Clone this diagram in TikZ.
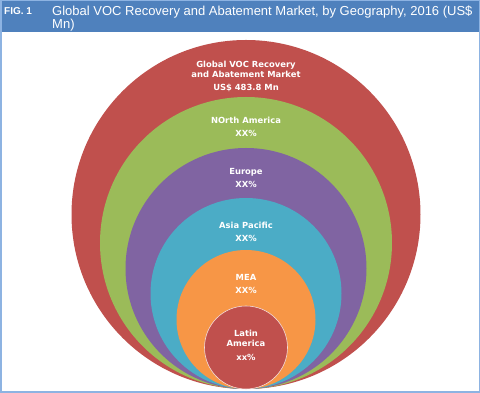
\documentclass[tikz,border=0pt]{standalone}
\usepackage{fontspec}
\setmainfont{Liberation Sans}
\newfontfamily\ringfont{DejaVu Sans}
\usetikzlibrary{positioning}
\definecolor{hdrblue}{RGB}{79,129,189}
\definecolor{frameblue}{RGB}{141,179,226}
\definecolor{ringred}{RGB}{192,80,77}
\definecolor{ringgreen}{RGB}{155,187,89}
\definecolor{ringpurple}{RGB}{128,100,162}
\definecolor{ringcyan}{RGB}{75,172,198}
\definecolor{ringorange}{RGB}{247,150,70}

\begin{document}
\begin{tikzpicture}[x=1pt, y=1pt,
  disc/.style={circle, inner sep=0pt, outer sep=0pt, anchor=south},
  lbl/.style={align=center, text=white, inner sep=0pt,
    font=\ringfont\bfseries\fontsize{8.4}{10}\selectfont}
]
  \useasboundingbox (0,0) rectangle (480,393);
  \fill[white] (0,0) rectangle (480,393);
  \fill[hdrblue] (0,361) rectangle (480,393);
  \draw[frameblue, line width=1.5pt] (0.75,0.75) rectangle (479.25,392.25);
  \node[anchor=west, text=white, inner sep=0pt, font=\bfseries\fontsize{10}{12}\selectfont]
    (fig) at (4,382) {FIG. 1};
  \node[anchor=north west, align=left, text=white, inner sep=0pt,
    font=\fontsize{13}{13}\selectfont] (title) at (52,387.5)
    {Global VOC Recovery and Abatement Market, by Geography, 2016 (US\$\\Mn)};

  % nested rings, all resting on the same base point
  \coordinate (base) at (246,4);
  \node[disc, fill=ringred, minimum size=349pt] (glob) at (base) {};
  \node[disc, fill=ringgreen, minimum size=292pt] (namer) at (base) {};
  \node[disc, fill=ringpurple, minimum size=241pt] (europe) at (base) {};
  \node[disc, fill=ringcyan, minimum size=191pt] (apac) at (base) {};
  \node[disc, fill=ringorange, minimum size=139pt] (mea) at (base) {};
  \node[disc, fill=ringred, draw=white!80!ringred, line width=0.6pt, minimum size=83pt] (latam) at (base) {};

  \node[lbl, below=20.5pt of glob.north] (globtxt)
    {Global VOC Recovery\\and Abatement Market\\[3.5pt]US\$ 483.8 Mn};
  \node[lbl, below=19.5pt of namer.north] (namertxt) {NOrth America\\[3pt]XX\%};
  \node[lbl, below=20.5pt of europe.north] (europetxt) {Europe\\[3pt]XX\%};
  \node[lbl, below=23.5pt of apac.north] (apactxt) {Asia Pacific\\[3pt]XX\%};
  \node[lbl, below=24.5pt of mea.north] (meatxt) {MEA\\[3pt]XX\%};
  \node[lbl, below=23.5pt of latam.north] (latamtxt) {Latin\\America\\[4pt]xx\%};
\end{tikzpicture}
\end{document}
